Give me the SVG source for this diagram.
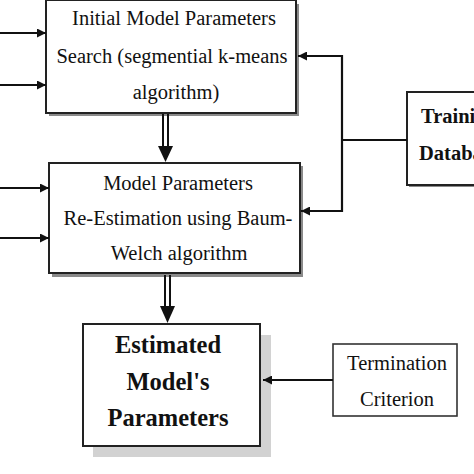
<svg xmlns="http://www.w3.org/2000/svg" width="474" height="474" viewBox="0 0 474 474">
<style>
.box{fill:#fff;stroke:#222;stroke-width:2}
.sh{fill:#8a8a8a}
.t{font-family:"Liberation Serif","Times New Roman",serif;font-size:20.5px;fill:#111;text-anchor:middle}
.b{font-weight:bold}
.ln{stroke:#111;stroke-width:2.2;fill:none}
</style>
<defs>
<marker id="ah" viewBox="0 0 10 10" refX="10" refY="5" markerWidth="9" markerHeight="9" markerUnits="userSpaceOnUse" orient="auto">
<path d="M0,0 L10,5 L0,10 z" fill="#111"/>
</marker>
<marker id="big" viewBox="0 0 16 16" refX="16" refY="8" markerWidth="16" markerHeight="16" markerUnits="userSpaceOnUse" orient="auto">
<path d="M0,0 L16,8 L0,16 z" fill="#111"/>
</marker>
</defs>
<rect width="474" height="474" fill="#fff"/>

<g id="init">
<rect class="sh" x="49" y="4" width="250" height="112"/>
<rect class="box" x="46" y="0" width="250" height="113"/>
<text class="t" x="174" y="25">Initial Model Parameters</text>
<text class="t" x="172" y="63">Search (segmential k-means</text>
<text class="t" x="176" y="99">algorithm)</text>
</g>

<g id="reest">
<rect class="sh" x="52" y="166" width="251" height="111"/>
<rect class="box" x="49" y="163" width="251" height="110"/>
<text class="t" x="178" y="190">Model Parameters</text>
<text class="t" x="178" y="225">Re-Estimation using Baum-</text>
<text class="t" x="179" y="260">Welch algorithm</text>
</g>

<g id="training">
<rect class="sh" x="409" y="94" width="80" height="93"/>
<rect class="box" x="407" y="92" width="80" height="93"/>
<text class="t b" x="421" y="123" style="text-anchor:start">Training</text>
<text class="t b" x="419" y="160" style="text-anchor:start">Database</text>
</g>

<g id="estimated">
<rect x="93" y="335" width="178" height="122" fill="#d2d2d2"/>
<rect class="box" x="83" y="324" width="177" height="122"/>
<text class="t b" x="168" y="353" style="font-size:24.5px">Estimated</text>
<text class="t b" x="168" y="390" style="font-size:24.5px">Model's</text>
<text class="t b" x="168" y="426" style="font-size:24.5px">Parameters</text>
</g>

<g id="termination">
<rect x="333" y="344" width="124" height="72" fill="#fff" stroke="#333" stroke-width="1.6"/>
<text class="t" x="397" y="370">Termination</text>
<text class="t" x="397" y="406">Criterion</text>
</g>

<g id="connectors">
<line class="ln" x1="0" y1="33" x2="46" y2="33" marker-end="url(#ah)"/>
<line class="ln" x1="0" y1="85" x2="46" y2="85" marker-end="url(#ah)"/>
<line class="ln" x1="0" y1="188" x2="49" y2="188" marker-end="url(#ah)"/>
<line class="ln" x1="0" y1="238" x2="49" y2="238" marker-end="url(#ah)"/>
<polyline class="ln" points="342,140 342,56 298,56" marker-end="url(#ah)"/>
<polyline class="ln" points="342,140 342,211 301,211" marker-end="url(#ah)"/>
<line class="ln" x1="342" y1="140" x2="407" y2="140"/>
<line x1="163" y1="114" x2="163" y2="148" stroke="#111" stroke-width="2"/>
<line x1="168" y1="114" x2="168" y2="148" stroke="#111" stroke-width="2"/>
<path d="M158,146 L173,146 L165.5,162 z" fill="#111"/>
<line x1="165" y1="275" x2="165" y2="308" stroke="#111" stroke-width="2"/>
<line x1="170" y1="275" x2="170" y2="308" stroke="#111" stroke-width="2"/>
<path d="M160,306 L175,306 L167.5,323 z" fill="#111"/>
<line class="ln" x1="333" y1="380" x2="263" y2="380" marker-end="url(#ah)"/>
</g>
</svg>
